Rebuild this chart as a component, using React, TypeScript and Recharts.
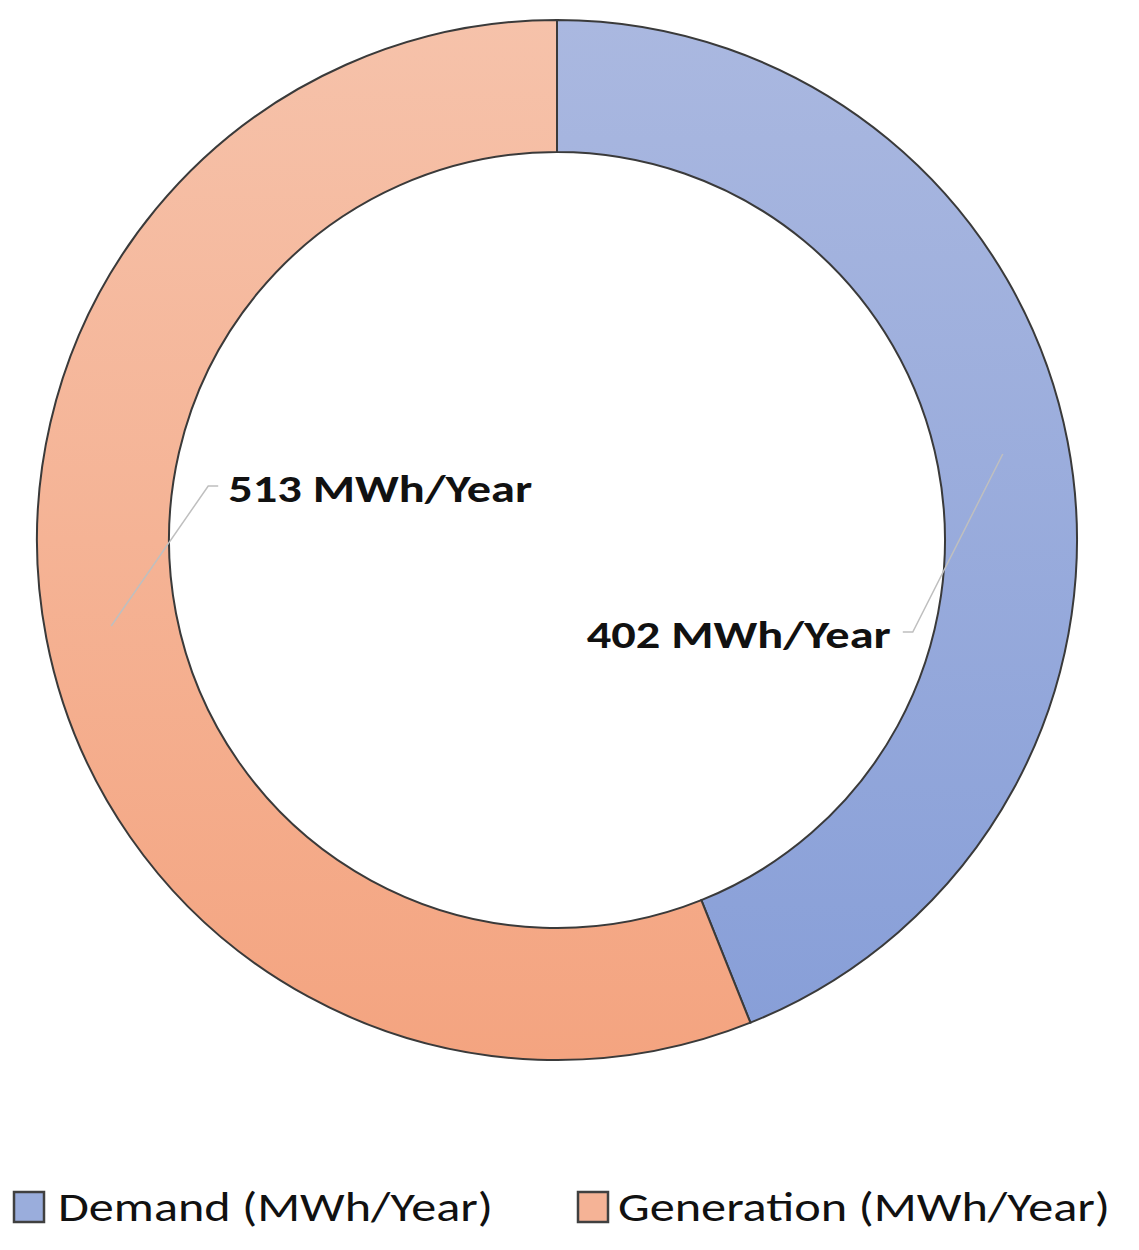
import { Cell, Legend, Pie, PieChart } from "recharts"

const categories = ["Demand (MWh/Year)", "Generation (MWh/Year)"]
const values = [402, 513]
const valueLabels = ["402 MWh/Year", "513 MWh/Year"]

const gradients = [
  { id: "demandFill", top: "#aab8e0", bottom: "#889fd8" },
  { id: "generationFill", top: "#f6c2aa", bottom: "#f4a480" },
]
const swatches = ["#9aaddc", "#f5b396"]

// leader-line bend offsets from the ring mid point (Excel labels were dragged)
const labelBends = [
  { dx: -90, dy: 178, side: "left" as const, width: 304 },
  { dx: 97, dy: -140, side: "right" as const, width: 304 },
]

const data = categories.map((name, i) => ({
  name,
  value: values[i],
  label: valueLabels[i],
}))

const RAD = Math.PI / 180
const FONT = "Carlito, 'Open Sans', 'Liberation Sans', sans-serif"

function renderLabel(props: any) {
  const { cx, cy, midAngle, innerRadius, outerRadius, index } = props
  const r = (innerRadius + outerRadius) / 2
  const sx = cx + r * Math.cos(-midAngle * RAD)
  const sy = cy + r * Math.sin(-midAngle * RAD)
  const b = labelBends[index]
  const bx = sx + b.dx
  const by = sy + b.dy
  const ex = b.side === "left" ? bx - 10 : bx + 10
  const tx = b.side === "left" ? ex - 12 : ex + 10
  return (
    <g>
      <polyline
        points={`${sx},${sy} ${bx},${by} ${ex},${by}`}
        fill="none"
        stroke="#bfbfbf"
        strokeWidth={1.5}
      />
      <text
        x={b.side === "left" ? tx - b.width : tx}
        y={by + 16}
        fill="#111"
        fontFamily={FONT}
        fontWeight={700}
        fontSize={38}
        textLength={b.width}
        lengthAdjust="spacingAndGlyphs"
      >
        {data[index].label}
      </text>
    </g>
  )
}

function LegendContent() {
  const items = [
    { x: 14, textX: 58, w: 435 },
    { x: 578, textX: 618, w: 492 },
  ]
  return (
    <svg width={1139} height={60} style={{ display: "block" }}>
      {items.map((it, i) => (
        <g key={categories[i]}>
          <rect
            x={it.x}
            y={15}
            width={30}
            height={30}
            fill={swatches[i]}
            stroke="#404040"
            strokeWidth={2.5}
          />
          <text
            x={it.textX}
            y={44}
            fill="#111"
            fontFamily={FONT}
            fontSize={40}
            textLength={it.w}
            lengthAdjust="spacingAndGlyphs"
          >
            {categories[i]}
          </text>
        </g>
      ))}
    </svg>
  )
}

export default function App() {
  return (
    <div style={{ position: "absolute", left: 0, top: 0, background: "#fff" }}>
      <PieChart width={1139} height={1250} margin={{ top: 0, right: 0, bottom: 0, left: 0 }}>
        <defs>
          {gradients.map((g) => (
            <linearGradient key={g.id} id={g.id} x1="0" y1="0" x2="0" y2="1">
              <stop offset="0%" stopColor={g.top} />
              <stop offset="100%" stopColor={g.bottom} />
            </linearGradient>
          ))}
        </defs>
        <Pie
          data={data}
          dataKey="value"
          nameKey="name"
          cx={557}
          cy={540}
          innerRadius={388}
          outerRadius={520}
          startAngle={90}
          endAngle={-270}
          stroke="#3a3a3a"
          strokeWidth={2}
          label={renderLabel}
          labelLine={false}
          isAnimationActive={false}
        >
          {data.map((d, i) => (
            <Cell key={d.name} fill={`url(#${gradients[i].id})`} />
          ))}
        </Pie>
        <Legend
          verticalAlign="bottom"
          content={() => <LegendContent />}
          wrapperStyle={{ left: 0, bottom: 13, width: 1139 }}
        />
      </PieChart>
    </div>
  )
}
